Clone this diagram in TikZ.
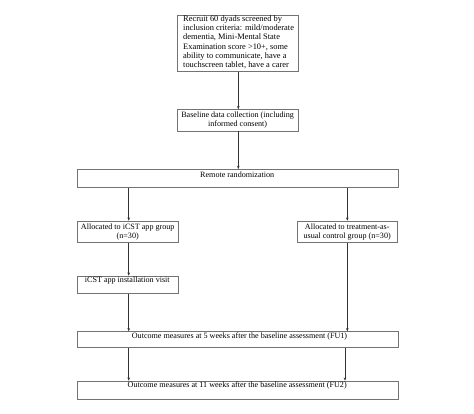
\documentclass[tikz,border=0pt]{standalone}
\usepackage{fontspec}
\setmainfont{Liberation Serif}
\usetikzlibrary{arrows.meta}
\begin{document}
\begin{tikzpicture}[x=1pt,y=-1pt,
  box/.style={draw=black!55, line width=0.7pt, rectangle, inner sep=0pt, anchor=north west},
  txt/.style={font=\fontsize{8.1}{9.3}\selectfont, inner sep=0pt, align=center},
  bigtxt/.style={font=\fontsize{8.4}{9.3}\selectfont, inner sep=0pt, align=left},
  arr/.style={draw=black!80, line width=0.6pt, -{Stealth[length=3.2pt,width=2.6pt]}}]
\useasboundingbox[fill=white] (0,0) rectangle (474,414);
% boxes
\node[box, minimum width=120.5pt, minimum height=56pt] (recruit) at (177,15) {};
\node[bigtxt, anchor=west] (recruitT) at (183,42.3) {Recruit 60 dyads screened by\\inclusion criteria: mild/moderate\\dementia, Mini-Mental State\\Examination score >10+, some\\ability to communicate, have a\\touchscreen tablet, have a carer};
\node[box, minimum width=120.5pt, minimum height=21.4pt] (base) at (177,109.3) {};
\node[txt] (baseT) at (base.center) {Baseline data collection (including\\informed consent)};
\node[box, minimum width=321pt, minimum height=18.3pt] (rand) at (76.7,169) {};
\node[txt] (randT) at (237.2,175) {Remote randomization};
\node[box, minimum width=101.3pt, minimum height=21.6pt] (alloc) at (76.7,220.7) {};
\node[txt] (allocT) at (alloc.center) {Allocated to iCST app group\\(n=30)};
\node[box, minimum width=100.3pt, minimum height=21.6pt] (ctrl) at (296.7,220.7) {};
\node[txt] (ctrlT) at (ctrl.center) {Allocated to treatment-as-\\usual control group (n=30)};
\node[box, minimum width=101.3pt, minimum height=17.6pt] (inst) at (76.7,275.7) {};
\node[txt] (instT) at (127.3,280.5) {iCST app installation visit};
\node[box, minimum width=321pt, minimum height=16pt] (fu1) at (76.7,331.3) {};
\node[txt] (fu1T) at (239.5,336.8) {Outcome measures at 5 weeks after the baseline assessment (FU1)};
\node[box, minimum width=321pt, minimum height=18.3pt] (fu2) at (76.7,380.7) {};
\node[txt] (fu2T) at (237.2,385.5) {Outcome measures at 11 weeks after the baseline assessment (FU2)};
% connectors
\coordinate (cx) at (238.3,0);
\coordinate (lx) at (128.7,0);
\coordinate (rx) at (347.3,0);
\coordinate (rx2) at (345,0);
\draw[arr] (recruit.south -| cx) -- (base.north -| cx);
\draw[arr] (base.south -| cx) -- (rand.north -| cx);
\draw[arr] (rand.south -| lx) -- (alloc.north -| lx);
\draw[arr] (rand.south -| rx) -- (ctrl.north -| rx);
\draw[arr] (alloc.south -| lx) -- (inst.north -| lx);
\draw[arr] (inst.south -| lx) -- (fu1.north -| lx);
\draw[arr] (ctrl.south -| rx) -- (fu1.north -| rx);
\draw[arr] (fu1.south -| lx) -- (fu2.north -| lx);
\draw[arr] (fu1.south -| rx2) -- (fu2.north -| rx2);
\end{tikzpicture}
\end{document}
